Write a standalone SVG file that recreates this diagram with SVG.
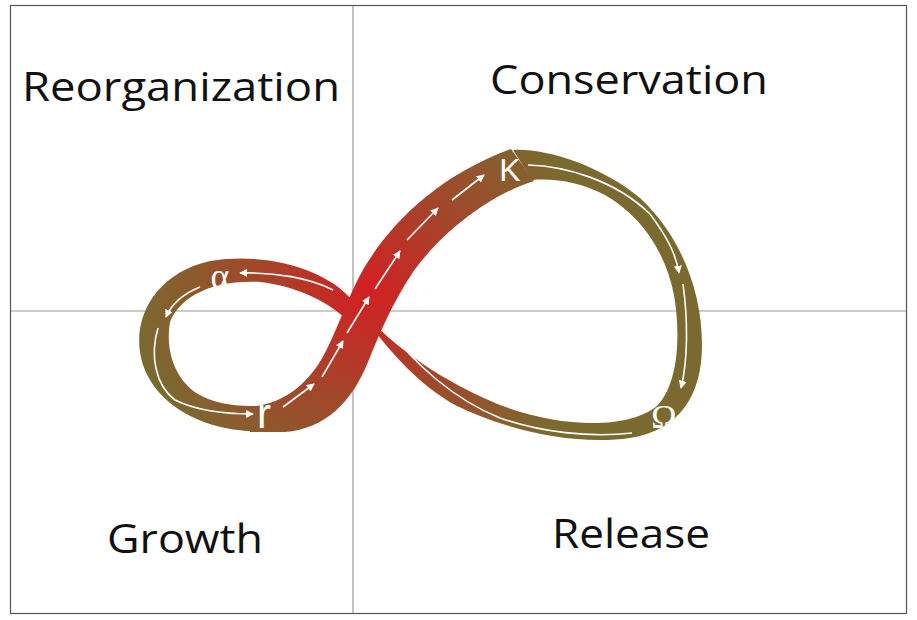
<svg xmlns="http://www.w3.org/2000/svg" width="917" height="620" viewBox="0 0 917 620">
<style>
.lbl{font-family:"Open Sans","Liberation Sans",sans-serif;font-size:40px;fill:#111}
.sym{font-family:"Liberation Sans",sans-serif;fill:#fff}
.grk{font-family:"Liberation Serif",serif;fill:#fff}
.arr{fill:none;stroke:#fff;stroke-width:1.6}
.axis{stroke:#999;stroke-width:1.2}
</style>
<defs>
<radialGradient id="g" gradientUnits="userSpaceOnUse" cx="365" cy="290" r="230">
<stop offset="0" stop-color="#d41f22"/>
<stop offset="0.45" stop-color="#a5442a"/>
<stop offset="1" stop-color="#7a6a30"/>
</radialGradient>
<marker id="ah" viewBox="0 0 10 10" refX="9" refY="5" markerWidth="5" markerHeight="5" orient="auto"><path d="M0,0 L10,5 L0,10 Z" fill="#fff"/></marker>
</defs>
<rect x="10.5" y="5.5" width="896" height="608" fill="#fff" stroke="#555" stroke-width="1.2"/>
<line class="axis" x1="353" y1="6" x2="353" y2="613"/>
<line class="axis" x1="11" y1="311" x2="906" y2="311"/>
<g id="ribbon">
<path fill="url(#g)" d="M513,150 C545,148 600,165 640,198 C680,235 702,290 702,345 C702,395 680,430 630,438 C575,446 505,430 455,405 C420,385 392,355 365,318 L372,322 C400,350 440,380 500,405 C560,428 630,430 658,405 C680,380 680,330 674,295 C665,250 640,215 605,195 C580,182 555,178 532,180 Z"/>
<path fill="url(#g)" d="M352,300 C325,268 265,252 210,261 C160,272 134,312 140,352 C146,395 190,428 250,431 L275,430 L270,405 C240,408 215,404 198,394 C175,380 165,350 170,322 C182,292 220,280 260,282 C295,286 325,300 345,318 Z"/>
<path fill="url(#g)" d="M250,407 C283,404 306,385 321,360 C336,335 346,300 364,268 C392,222 438,176 511,149 L534,181 C484,197 438,237 413,272 C393,302 380,332 368,362 C352,402 325,429 285,432 L250,432 Z"/>
</g>
<g id="arrows">
<line class="arr" x1="283" y1="407" x2="314" y2="384" marker-end="url(#ah)"/>
<line class="arr" x1="322" y1="377" x2="343" y2="341" marker-end="url(#ah)"/>
<line class="arr" x1="347" y1="333" x2="369" y2="297" marker-end="url(#ah)"/>
<line class="arr" x1="375" y1="289" x2="400" y2="251" marker-end="url(#ah)"/>
<line class="arr" x1="407" y1="240" x2="438" y2="208" marker-end="url(#ah)"/>
<line class="arr" x1="452" y1="200" x2="484" y2="175" marker-end="url(#ah)"/>
<path class="arr" d="M528,165 C565,166 615,180 650,214 C668,238 676,255 679,273" marker-end="url(#ah)"/>
<path class="arr" d="M683,284 C688,320 688,360 681,388" marker-end="url(#ah)"/>
<path class="arr" d="M632,433 C590,438 540,432 500,418 C455,400 415,365 385,325"/>
<path class="arr" d="M333,290 C310,278 275,272 240,273" marker-end="url(#ah)"/>
<path class="arr" d="M200,287 C185,293 172,303 166,317" marker-end="url(#ah)"/>
<path class="arr" d="M158,328 C150,355 155,385 175,400 C195,410 225,414 253,414" marker-end="url(#ah)"/>
</g>
<g id="symbols">
<text class="grk" x="220" y="288" font-size="36" text-anchor="middle">α</text>
<text class="sym" x="510" y="181" font-size="32" text-anchor="middle">K</text>
<text class="sym" x="264" y="428" font-size="42" text-anchor="middle">r</text>
<text class="grk" x="664" y="428" font-size="34" text-anchor="middle">Ω</text>
</g>
<g id="labels">
<text class="lbl" x="22" y="101" textLength="318" lengthAdjust="spacingAndGlyphs">Reorganization</text>
<text class="lbl" x="490" y="94" textLength="278" lengthAdjust="spacingAndGlyphs">Conservation</text>
<text class="lbl" x="107" y="553" textLength="156" lengthAdjust="spacingAndGlyphs">Growth</text>
<text class="lbl" x="552" y="548" textLength="158" lengthAdjust="spacingAndGlyphs">Release</text>
</g>
</svg>
